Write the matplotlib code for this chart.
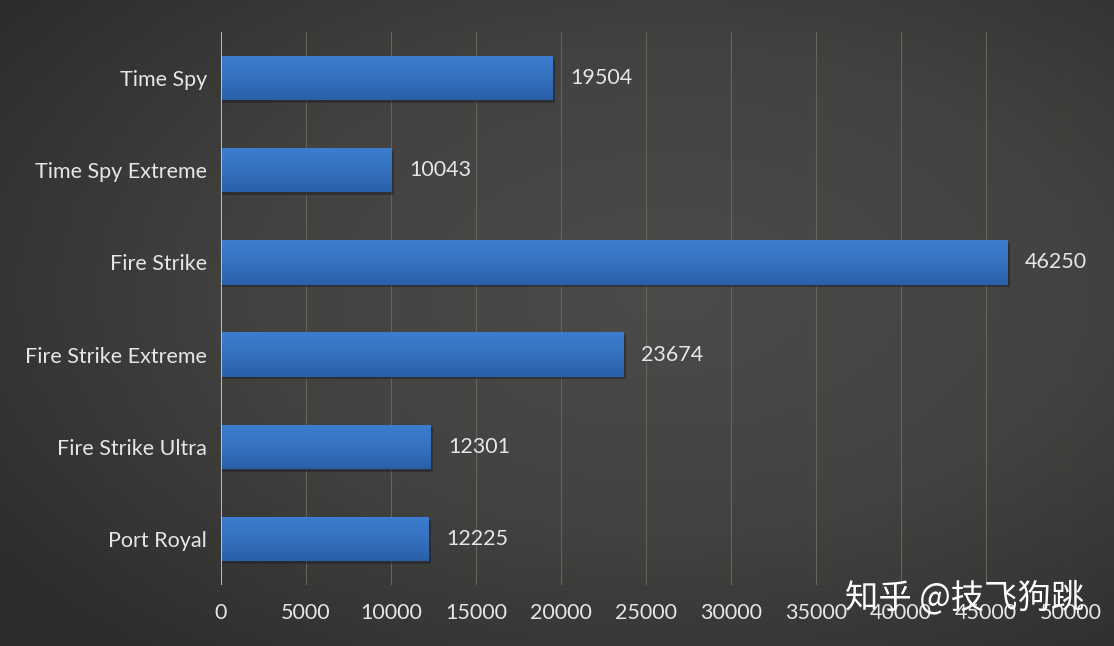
import numpy as np
import matplotlib
matplotlib.use("Agg")
import matplotlib.pyplot as plt
from matplotlib.colors import LinearSegmentedColormap

categories = ["Time Spy", "Time Spy Extreme", "Fire Strike", "Fire Strike Extreme",
              "Fire Strike Ultra", "Port Royal"]
scores = [19504, 10043, 46250, 23674, 12301, 12225]
xticks = [0, 5000, 10000, 15000, 20000, 25000, 30000, 35000, 40000, 45000, 50000]
watermark = "知乎 @技飞狗跳"

plt.rcParams['font.family'] = ['Lato', 'Noto Sans CJK SC', 'DejaVu Sans']

W, H = 1114, 646
fig = plt.figure(figsize=(W / 100, H / 100), dpi=100)

# background radial gradient
bg = fig.add_axes([0, 0, 1, 1], zorder=-10)
yy, xx = np.mgrid[0:1:200j, 0:1:340j]
d = np.sqrt(((xx - 0.6) / 0.75) ** 2 + ((yy - 0.45) / 0.75) ** 2)
d = np.clip(d, 0, 1)
bg_cmap = LinearSegmentedColormap.from_list("bg", ["#4d4b49", "#444240", "#2c2c2c"])
bg.imshow(d, cmap=bg_cmap, aspect='auto', extent=[0, 1, 0, 1], origin='upper', vmin=0, vmax=1)
bg.axis('off')

ax = fig.add_axes([221 / W, 1 - 585 / H, 850 / W, (585 - 32) / H])
ax.patch.set_alpha(0)
y = np.arange(len(categories))
bar_h = 0.48

ax.set_xlim(0, 50000)
ax.set_ylim(len(categories) - 0.5, -0.5)

bar_cmap = LinearSegmentedColormap.from_list("bar", ["#3d7dcf", "#3572c0", "#2b5fa8"])
grad = np.linspace(0, 1, 64).reshape(-1, 1)
for yi, v in zip(y, scores):
    # shadow
    ax.barh(yi + 0.03, v + 150, height=bar_h, left=0, color="#1e2228", alpha=0.55, zorder=2,
            linewidth=0)
    b = ax.barh(yi, v, height=bar_h, color="#3572c0", zorder=3, linewidth=0)[0]
    im = ax.imshow(grad, cmap=bar_cmap, aspect='auto',
                   extent=[0, v, yi + bar_h / 2, yi - bar_h / 2], zorder=4)
    im.set_clip_path(b)
    ax.text(v + 1050, yi, f"{v}", va='center', ha='left', color="#e6e6e6", fontsize=15.5,
            zorder=5)

ax.set_xticks(xticks)
ax.set_xticklabels([str(t) for t in xticks])
ax.set_yticks(y)
ax.set_yticklabels(categories)
ax.set_xlim(0, 50000)
ax.set_ylim(len(categories) - 0.5, -0.5)
ax.tick_params(axis='both', length=0, colors="#e6e6e6", labelsize=15.5)
ax.tick_params(axis='x', pad=13)
ax.tick_params(axis='y', pad=10)
for t in xticks[1:]:
    ax.axvline(t, color="#65635f", linewidth=0.8, zorder=1)
ax.axvline(0, color="#c8c8c8", linewidth=1.3, zorder=6)
for s in ax.spines.values():
    s.set_visible(False)

fig.text(845 / W, 1 - 598 / H, watermark, color="white", fontsize=24,
         family=['Noto Sans CJK SC', 'DejaVu Sans'], va='center', ha='left', zorder=20)

fig.savefig("out.png", dpi=100)
